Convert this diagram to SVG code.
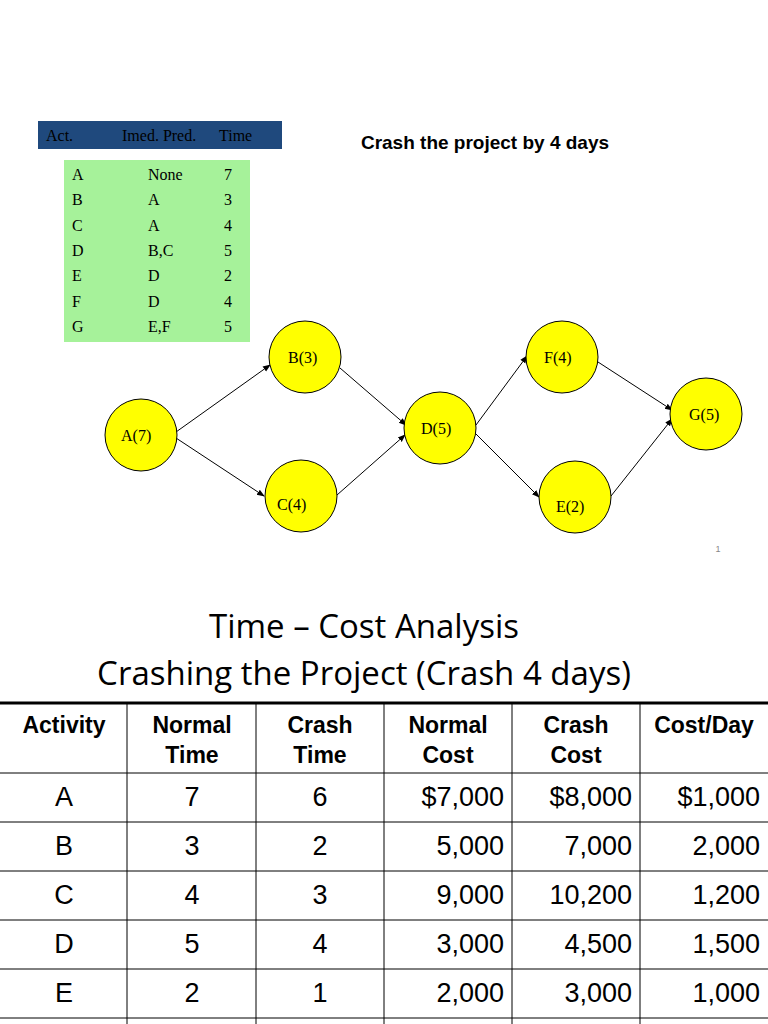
<svg xmlns="http://www.w3.org/2000/svg" width="768" height="1024" viewBox="0 0 768 1024">
<style>
.s{font-family:"Liberation Serif",serif;font-size:16px;fill:#000}
.n circle{fill:#ffff00;stroke:#000;stroke-width:1}
.c line{stroke:#000;stroke-width:1;marker-end:url(#ah)}
.h{font-family:"Liberation Sans",Arial,sans-serif;font-size:23px;font-weight:bold;text-anchor:middle}
.d{font-family:"Liberation Sans",Arial,sans-serif;font-size:27px}
.t{font-family:"Open Sans","Noto Sans",sans-serif;font-size:33px;text-anchor:middle}
.g line{stroke:#000;stroke-width:1}
</style>
<defs><marker id="ah" markerWidth="8" markerHeight="8" refX="7" refY="4" orient="auto" markerUnits="userSpaceOnUse"><path d="M0,1 L8,4 L0,7 z" fill="#000"/></marker></defs>
<rect width="768" height="1024" fill="#fff"/>
<rect x="38" y="121" width="244" height="28" fill="#1f497d"/>
<text class="s" x="46" y="141">Act.</text>
<text class="s" x="122" y="141">Imed. Pred.</text>
<text class="s" x="219" y="141">Time</text>
<rect x="64" y="160" width="186" height="182" fill="#a6f29a"/>
<g class="s">
<text x="72" y="180">A</text><text x="148" y="180">None</text><text x="224" y="180">7</text>
<text x="72" y="205">B</text><text x="148" y="205">A</text><text x="224" y="205">3</text>
<text x="72" y="231">C</text><text x="148" y="231">A</text><text x="224" y="231">4</text>
<text x="72" y="256">D</text><text x="148" y="256">B,C</text><text x="224" y="256">5</text>
<text x="72" y="281">E</text><text x="148" y="281">D</text><text x="224" y="281">2</text>
<text x="72" y="307">F</text><text x="148" y="307">D</text><text x="224" y="307">4</text>
<text x="72" y="332">G</text><text x="148" y="332">E,F</text><text x="224" y="332">5</text>
</g>
<text x="485" y="149" font-family="Liberation Sans,Arial,sans-serif" font-size="19" font-weight="bold" text-anchor="middle">Crash the project by 4 days</text>
<g class="c">
<line x1="176" y1="432" x2="270" y2="365"/>
<line x1="176" y1="438" x2="264" y2="496"/>
<line x1="340" y1="368" x2="406" y2="425"/>
<line x1="337" y1="495" x2="405" y2="435"/>
<line x1="476" y1="425" x2="527" y2="356"/>
<line x1="476" y1="434" x2="539" y2="497"/>
<line x1="598" y1="362" x2="672" y2="410"/>
<line x1="611" y1="496" x2="672" y2="419"/>
</g>
<g id="nA" class="n"><circle cx="141" cy="435" r="36"/><text class="s" x="121" y="441">A(7)</text></g>
<g id="nB" class="n"><circle cx="305" cy="357" r="36"/><text class="s" x="288" y="363">B(3)</text></g>
<g id="nC" class="n"><circle cx="301" cy="496" r="36"/><text class="s" x="277" y="510">C(4)</text></g>
<g id="nD" class="n"><circle cx="440" cy="428" r="36"/><text class="s" x="421" y="434">D(5)</text></g>
<g id="nF" class="n"><circle cx="562" cy="357" r="36"/><text class="s" x="544" y="363">F(4)</text></g>
<g id="nE" class="n"><circle cx="575" cy="497" r="36"/><text class="s" x="556" y="512">E(2)</text></g>
<g id="nG" class="n"><circle cx="706" cy="414" r="36"/><text class="s" x="689" y="420">G(5)</text></g>
<text x="718" y="552" font-family="Liberation Sans,Arial,sans-serif" font-size="9" fill="#888" text-anchor="middle">1</text>
<text class="t" x="364" y="638">Time – Cost Analysis</text>
<text class="t" x="364" y="685">Crashing the Project (Crash 4 days)</text>
<g class="g">
<line x1="0" y1="703" x2="768" y2="703" style="stroke-width:3"/>
<line x1="0" y1="773" x2="768" y2="773"/>
<line x1="0" y1="822" x2="768" y2="822"/>
<line x1="0" y1="871" x2="768" y2="871"/>
<line x1="0" y1="920" x2="768" y2="920"/>
<line x1="0" y1="969" x2="768" y2="969"/>
<line x1="0" y1="1018" x2="768" y2="1018"/>
<line x1="127" y1="703" x2="127" y2="1024"/>
<line x1="256" y1="703" x2="256" y2="1024"/>
<line x1="384" y1="703" x2="384" y2="1024"/>
<line x1="512" y1="703" x2="512" y2="1024"/>
<line x1="640" y1="703" x2="640" y2="1024"/>
</g>
<g class="h">
<text x="64" y="733">Activity</text>
<text x="192" y="733">Normal</text><text x="192" y="763">Time</text>
<text x="320" y="733">Crash</text><text x="320" y="763">Time</text>
<text x="448" y="733">Normal</text><text x="448" y="763">Cost</text>
<text x="576" y="733">Crash</text><text x="576" y="763">Cost</text>
<text x="704" y="733">Cost/Day</text>
</g>
<g class="d" text-anchor="middle">
<text x="64" y="806">A</text><text x="192" y="806">7</text><text x="320" y="806">6</text>
<text x="64" y="855">B</text><text x="192" y="855">3</text><text x="320" y="855">2</text>
<text x="64" y="904">C</text><text x="192" y="904">4</text><text x="320" y="904">3</text>
<text x="64" y="953">D</text><text x="192" y="953">5</text><text x="320" y="953">4</text>
<text x="64" y="1002">E</text><text x="192" y="1002">2</text><text x="320" y="1002">1</text>
</g>
<g class="d" text-anchor="end">
<text x="504" y="806">$7,000</text><text x="632" y="806">$8,000</text><text x="760" y="806">$1,000</text>
<text x="504" y="855">5,000</text><text x="632" y="855">7,000</text><text x="760" y="855">2,000</text>
<text x="504" y="904">9,000</text><text x="632" y="904">10,200</text><text x="760" y="904">1,200</text>
<text x="504" y="953">3,000</text><text x="632" y="953">4,500</text><text x="760" y="953">1,500</text>
<text x="504" y="1002">2,000</text><text x="632" y="1002">3,000</text><text x="760" y="1002">1,000</text>
</g>
</svg>
